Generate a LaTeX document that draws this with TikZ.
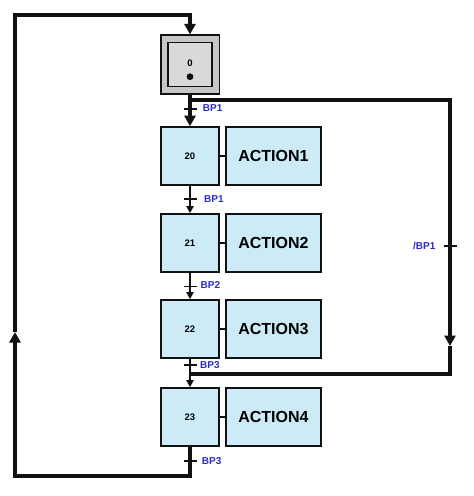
\documentclass[tikz,border=0pt]{standalone}
\usepackage{fontspec}
\setmainfont{Liberation Sans}
\usetikzlibrary{arrows.meta}
\definecolor{stp}{HTML}{CDEBF7}
\definecolor{gr}{HTML}{C6C6C6}
\definecolor{gri}{HTML}{D9D9D9}
\definecolor{tr}{HTML}{2B2BC8}
\definecolor{ln}{HTML}{111111}

\begin{document}
\begin{tikzpicture}[x=1pt,y=-1pt]
          \tikzstyle{every node}=[font=\bfseries,inner sep=0pt]
          \tikzstyle{etape}=[draw=ln,line width=1.6pt,fill=stp,minimum width=58pt,minimum height=58pt,font=\bfseries\fontsize{9.5}{11}\selectfont]
          \tikzstyle{action}=[draw=ln,line width=1.6pt,fill=stp,minimum width=94.7pt,minimum height=58pt,font=\bfseries\fontsize{16}{18}\selectfont]
          \tikzstyle{recep}=[text=tr,anchor=west,font=\bfseries\fontsize{10}{12}\selectfont]
          \tikzstyle{fort}=[draw=ln,line width=3.1pt]
          \tikzstyle{fin}=[draw=ln,line width=1.7pt]
          \tikzstyle{gros}=[-{Triangle[length=10.5pt,width=11pt]}]
          \tikzstyle{petit}=[-{Triangle[length=7pt,width=7pt]}]
          \useasboundingbox (0,0) rectangle (474,496);
          % etape initiale
          \node[draw=ln,line width=1.6pt,fill=gr,minimum size=58.6pt] (s0) at (190,64.5) {};
          \node[draw=ln,line width=1.6pt,fill=gri,minimum size=44pt] (s0in) at (s0) {};
          \node[font=\bfseries\fontsize{9.5}{11}\selectfont] (n0) at (190,63.7) {0};
          \fill[ln] (190,76.7) circle (3.4pt);
          % etapes et actions
          \node[etape] (s20) at (190,156) {20};
          \node[etape] (s21) at (190,243) {21};
          \node[etape] (s22) at (190,329) {22};
          \node[etape] (s23) at (190,417) {23};
          \node[action] (a20) at (273.4,156) {ACTION1};
          \node[action] (a21) at (273.4,243) {ACTION2};
          \node[action] (a22) at (273.4,329) {ACTION3};
          \node[action] (a23) at (273.4,417) {ACTION4};
          \draw[fin] (s20.east) -- (a20.west);
          \draw[fin] (s21.east) -- (a21.west);
          \draw[fin] (s22.east) -- (a22.west);
          \draw[fin] (s23.east) -- (a23.west);
          % coins des boucles
          \coordinate (hg) at (15,15);
          \coordinate (bg) at (15,476);
          \coordinate (fg) at (15,332);
          \coordinate (hd) at (450,100);
          \coordinate (bd) at (450,374);
          \coordinate (fd) at (450,346);
          % liaisons
          \draw[fort,gros] (s0.south) -- (s20.north);
          \draw[fin,petit] (s20.south) -- (s21.north);
          \draw[fin,petit] (s21.south) -- (s22.north);
          \draw[fin,petit] (s22.south) -- (s23.north);
          \draw[fort,gros] (s23.south) |- (bg) -- (fg);
          \draw[fort,gros] (fg) -- (hg) -| (s0.north);
          \draw[fort,gros] (s0.south |- hd) -- (hd) -- (fd);
          \draw[fort] (fd) -- (bd) -- (s23.north |- bd);
          % receptivites
          \draw[fin] (183.5,109.3) -- ++(13,0);
          \draw[fin] (183.5,199.3) -- ++(13,0);
          \draw[fin] (183.5,286.5) -- ++(13,0);
          \draw[fin] (183.5,365) -- ++(13,0);
          \draw[fin] (183.5,461) -- ++(13,0);
          \draw[fin] (443.5,245.7) -- ++(13,0);
          \node[recep] (r0) at (202.7,108.5) {BP1};
          \node[recep] (r20) at (204,199) {BP1};
          \node[recep] (r21) at (200.5,285.5) {BP2};
          \node[recep] (r22) at (200,365) {BP3};
          \node[recep] (r23) at (201.7,460.7) {BP3};
          \node[recep] (r1) at (413,245.7) {/BP1};
        \end{tikzpicture}
\end{document}
